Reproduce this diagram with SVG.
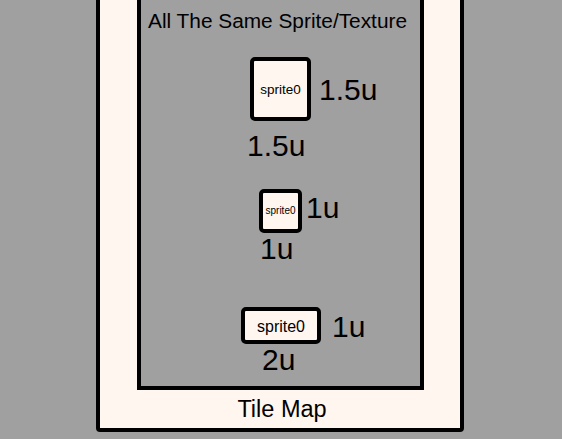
<svg xmlns="http://www.w3.org/2000/svg" width="562" height="439" viewBox="0 0 562 439">
<style>
.box{fill:#fff6f0;stroke:#000;stroke-width:4}
.lbl{font-family:"Liberation Sans",Arial,sans-serif;fill:#000}
.big{font-size:30px}
</style>
<rect x="0" y="0" width="562" height="439" fill="#a0a0a0"/>
<g id="tilemap">
<rect x="98" y="-10" width="364" height="440" fill="#fff6f0" stroke="#000" stroke-width="4" rx="2"/>
<text class="lbl" x="282" y="417" font-size="23.5" text-anchor="middle">Tile Map</text>
</g>
<g id="texture">
<rect x="139" y="-10" width="283" height="398" fill="#a0a0a0" stroke="#000" stroke-width="4"/>
<text class="lbl" x="148" y="28" font-size="20" textLength="259" lengthAdjust="spacingAndGlyphs">All The Same Sprite/Texture</text>
</g>
<g id="sprite1">
<rect class="box" x="252" y="59" width="57" height="60" rx="3"/>
<text class="lbl" x="280.5" y="94" font-size="13.5" text-anchor="middle">sprite0</text>
<text class="lbl big" x="319" y="100">1.5u</text>
<text class="lbl big" x="247" y="156">1.5u</text>
</g>
<g id="sprite2">
<rect class="box" x="261" y="191" width="39" height="40" rx="3"/>
<text class="lbl" x="280.5" y="214" font-size="10" text-anchor="middle">sprite0</text>
<text class="lbl big" x="306" y="218">1u</text>
<text class="lbl big" x="260" y="259">1u</text>
</g>
<g id="sprite3">
<rect class="box" x="243" y="309" width="76" height="33" rx="3"/>
<text class="lbl" x="281" y="332" font-size="16" text-anchor="middle">sprite0</text>
<text class="lbl big" x="332" y="337">1u</text>
<text class="lbl big" x="262" y="370">2u</text>
</g>
<g id="connectors"></g>
</svg>
